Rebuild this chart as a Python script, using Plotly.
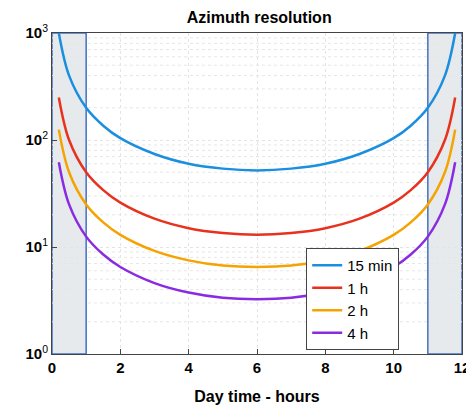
import plotly.graph_objects as go

t_left = [0.2, 0.5, 1, 1.5, 2, 3, 4, 5, 6]
times = t_left + [12 - t for t in reversed(t_left[:-1])]
def sym(v):
    return v + list(reversed(v[:-1]))
s15 = sym([1000, 400, 200, 136, 104, 74, 60, 54, 52])
s1h = sym([250, 100, 50, 34, 26, 18.4, 15, 13.5, 13])
s2h = sym([125, 50, 25, 17, 13, 9.2, 7.5, 6.7, 6.5])
s4h = sym([62, 25, 12.5, 8.5, 6.5, 4.6, 3.75, 3.35, 3.25])
names = ["15 min", "1 h", "2 h", "4 h"]
colors = ["#1a8fe0", "#e8321e", "#f5a300", "#8a2be2"]
minor_vals = [m * 10**d for d in range(3) for m in range(2, 10)]

fig = go.Figure()
for x0, x1 in [(0, 1), (11, 12)]:
    fig.add_shape(type="rect", xref="x", yref="y domain", x0=x0, x1=x1, y0=0, y1=1,
                  fillcolor="rgba(215,220,225,0.6)", line=dict(color="#4472c4", width=1.5), layer="below")
for v in minor_vals:
    fig.add_shape(type="line", xref="x domain", yref="y", x0=0, x1=1, y0=v, y1=v,
                  line=dict(color="#e6e6e6", width=1, dash="dot"), layer="below")
for n, c, s in zip(names, colors, [s15, s1h, s2h, s4h]):
    fig.add_trace(go.Scatter(x=times, y=s, name=n, mode="lines", line=dict(color=c, width=2.5, shape="spline")))

fig.update_layout(
    width=474, height=408, margin=dict(l=44, r=14, t=25, b=62),
    paper_bgcolor="white", plot_bgcolor="white",
    font=dict(family="Liberation Sans", size=15, color="black"),
    title=dict(text="<b>Azimuth resolution</b>", x=0.53, xanchor="center", y=0.99, yanchor="top", font=dict(size=16)),
    legend=dict(x=0.62, y=0.33, xanchor="left", yanchor="top", bordercolor="#444", borderwidth=1,
                bgcolor="white", font=dict(size=15, family="Liberation Sans"), tracegroupgap=0),
    xaxis=dict(range=[0, 12], tickvals=[0, 2, 4, 6, 8, 10, 12], ticktext=[f"<b>{v}</b>" for v in [0, 2, 4, 6, 8, 10, 12]],
               showgrid=True, gridcolor="#e4e4e4",
               griddash="dot", showline=True, linecolor="#444", mirror=True, ticks="inside",
               title=dict(text="<b>Day time - hours</b>", font=dict(size=16)), tickfont=dict(size=15)),
    yaxis=dict(type="log", range=[0, 3], tickvals=[1, 10, 100, 1000],
               ticktext=["<b>10</b><sup>0</sup>", "<b>10</b><sup>1</sup>", "<b>10</b><sup>2</sup>", "<b>10</b><sup>3</sup>"],
               showgrid=True, gridcolor="#e4e4e4", griddash="dot", showline=True, linecolor="#444",
               mirror=True, ticks="inside", tickfont=dict(size=15)),
)
fig.write_html("out.html")
